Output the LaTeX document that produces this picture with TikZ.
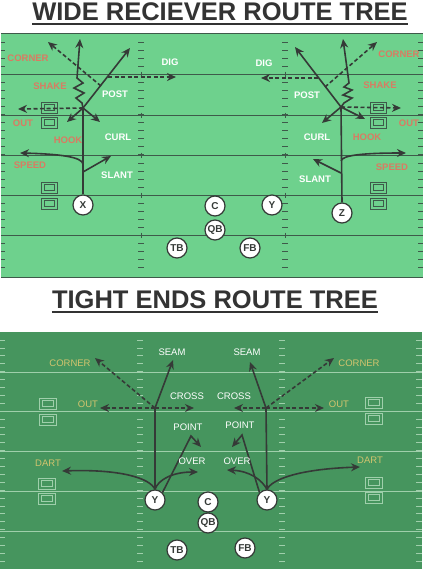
\documentclass[tikz,border=0pt]{standalone}
\usepackage{fontspec}
\setmainfont{Liberation Sans}
\usetikzlibrary{arrows.meta}
\definecolor{fieldA}{HTML}{6ED18D}
\definecolor{fieldB}{HTML}{46955E}
\definecolor{lineA}{HTML}{3E5A4A}
\definecolor{lineB}{HTML}{9FCFAB}
\definecolor{ink}{HTML}{353A37}
\definecolor{salmon}{HTML}{D97B62}
\definecolor{gold}{HTML}{D2C46E}
\definecolor{titlec}{HTML}{333333}
\tikzset{
 route/.style={draw=ink, line width=1.6pt, -{Stealth[length=9pt,width=8pt]}},
 dashroute/.style={route, dash pattern=on 4pt off 2.5pt},
 stemline/.style={draw=ink, line width=1.6pt},
 player/.style={circle, draw=ink, fill=white, line width=1.2pt, minimum size=20pt, inner sep=0pt, font=\bfseries\fontsize{10}{10}\selectfont, text=ink},
 lblW/.style={font=\bfseries\fontsize{9.5}{9.5}\selectfont, text=white},
 lblS/.style={font=\bfseries\fontsize{9.5}{9.5}\selectfont, text=salmon},
 lblW2/.style={font=\fontsize{9.5}{9.5}\selectfont, text=white},
 lblG/.style={font=\fontsize{9.5}{9.5}\selectfont, text=gold},
 boxA/.style={draw=lineA, line width=0.8pt},
 boxB/.style={draw=lineB, line width=0.6pt},
 titlestyle/.style={font=\bfseries\fontsize{25.5}{25.5}\selectfont, text=titlec, inner sep=0pt},
 ulinestyle/.style={draw=titlec, line width=1.8pt},
}
\begin{document}
\begin{tikzpicture}[x=1pt,y=-1pt]
\useasboundingbox (0,0) rectangle (423,574);
\fill[white] (0,0) rectangle (423,574);

% ===== Titles =====
\node[titlestyle] (t1) at (220,12) {WIDE RECIEVER ROUTE TREE};
\draw[ulinestyle] ([yshift=-3pt]t1.base west) -- ([yshift=-3pt]t1.base east);
\node[titlestyle] (t2) at (215,300) {TIGHT ENDS ROUTE TREE};
\draw[ulinestyle] ([yshift=-3pt]t2.base west) -- ([yshift=-3pt]t2.base east);

% ===== Top field =====
\fill[fieldA] (1,33) rectangle (423,277);
\draw[lineA, line width=1pt] (1,33) -- (423,33);
\draw[lineA, line width=0.8pt] (1,277) -- (423,277);
\foreach \yy in {74,115,155,195,235} {\draw[lineA, line width=0.8pt] (1,\yy) -- (423,\yy);
  \draw[lineA, line width=0.6pt] (141,\yy-2.5) -- (141,\yy+2.5) (285,\yy-2.5) -- (285,\yy+2.5);}
\foreach \i in {1,...,29} {\pgfmathsetmacro\yy{34+\i*8.05}
  \draw[lineA, line width=0.6pt] (1,\yy) -- (5,\yy) (138,\yy) -- (144,\yy) (282,\yy) -- (288,\yy) (418,\yy) -- (423,\yy);}
\foreach \bx/\by in {41/102, 41/117, 41/182, 41/198, 370/102, 370/117, 370/182, 370/198}
  {\draw[boxA] (\bx,\by) rectangle ++(16,11); \draw[boxA] (\bx+3,\by+2.5) rectangle ++(10,6);}

% players top
\node[player] (X) at (83,205) {X};
\node[player] (Z) at (342,213) {Z};
\node[player] (Yt) at (272,205) {Y};
\node[player] (Ct) at (215,206) {C};
\node[player] (QBt) at (215,230) {QB};
\node[player] (TBt) at (177,248) {TB};
\node[player] (FBt) at (250,248) {FB};

% left receiver routes
\coordinate (Lp) at (83,108);
\coordinate (Lpost) at (130,48);
\coordinate (Lhook) at (67,122);
\coordinate (Lcurl) at (100,122);
\coordinate (Lout) at (18,109);
\coordinate (Ldig0) at (108,77);
\coordinate (Ldig) at (176,77);
\coordinate (Lcor0) at (101,86);
\coordinate (Lcor) at (48,42);
\coordinate (Lsh) at (80,39);
\coordinate (Lsl0) at (83,172);
\coordinate (Lsl) at (111,156);
\coordinate (Lsp0) at (83,164);
\coordinate (Lsp) at (20,153);
\draw[stemline] (X.north) -- (Lp);
\draw[route] (Lp) -- (Lpost);
\draw[route] (Lp) -- (Lhook);
\draw[route] (Lp) -- (Lcurl);
\draw[dashroute] (Lp) -- (Lout);
\draw[dashroute] (Ldig0) -- (Ldig);
\draw[dashroute] (Lcor0) -- (Lcor);
\draw[route] (Lp) -- (82,103) -- (76,98) -- (84,93) -- (74,88) -- (83,83) -- (77,78) -- (Lsh);
\draw[route] (Lsl0) -- (Lsl);
\draw[route] (Lsp0) .. controls (82,157) and (60,154) .. (Lsp);

% right receiver routes
\coordinate (Rp) at (341,107);
\coordinate (Rpost) at (295,47);
\coordinate (Rhook) at (365,119);
\coordinate (Rcurl) at (322,123);
\coordinate (Rout) at (401,108);
\coordinate (Rdig0) at (318,78);
\coordinate (Rdig) at (261,78);
\coordinate (Rcor0) at (325,87);
\coordinate (Rcor) at (377,42);
\coordinate (Rsh) at (343,39);
\coordinate (Rsl0) at (341,173);
\coordinate (Rsl) at (313,159);
\coordinate (Rsp0) at (341,161);
\coordinate (Rsp) at (406,153);
\draw[stemline] (Z.north) -- (Rp);
\draw[route] (Rp) -- (Rpost);
\draw[route] (Rp) -- (Rhook);
\draw[route] (Rp) -- (Rcurl);
\draw[dashroute] (Rp) -- (Rout);
\draw[dashroute] (Rdig0) -- (Rdig);
\draw[dashroute] (Rcor0) -- (Rcor);
\draw[route] (Rp) -- (344,103) -- (352,98) -- (343,95) -- (352,90) -- (344,87) -- (349,83) -- (Rsh);
\draw[route] (Rsl0) -- (Rsl);
\draw[route] (Rsp0) .. controls (342,155) and (365,153) .. (Rsp);

% labels top
\node[lblS] (lcorner) at (28,58) {CORNER};
\node[lblS] (lshake) at (50,86) {SHAKE};
\node[lblS] (lout) at (23,123) {OUT};
\node[lblS] (lhook) at (68,140) {HOOK};
\node[lblS] (lspeed) at (30,165) {SPEED};
\node[lblW] (lpost) at (115,94) {POST};
\node[lblW] (lcurl) at (118,137) {CURL};
\node[lblW] (ldig) at (170,62) {DIG};
\node[lblW] (lslant) at (117,175) {SLANT};
\node[lblS] (rcorner) at (399,54) {CORNER};
\node[lblS] (rshake) at (380,85) {SHAKE};
\node[lblS] (rout) at (409,123) {OUT};
\node[lblS] (rhook) at (367,137) {HOOK};
\node[lblS] (rspeed) at (392,167) {SPEED};
\node[lblW] (rpost) at (307,95) {POST};
\node[lblW] (rcurl) at (317,137) {CURL};
\node[lblW] (rdig) at (264,63) {DIG};
\node[lblW] (rslant) at (315,179) {SLANT};

% ===== Bottom field =====
\fill[fieldB] (0,332) rectangle (422,569);
\foreach \yy in {372,411,451,491,531} {\draw[lineB, line width=0.7pt] (0,\yy) -- (422,\yy);}
\foreach \i in {1,...,29} {\pgfmathsetmacro\yy{332+\i*7.9}
  \draw[lineB, line width=0.5pt] (0,\yy) -- (5,\yy) (137,\yy) -- (143,\yy) (279,\yy) -- (285,\yy) (416,\yy) -- (422,\yy);}
\foreach \bx/\by in {39/398, 39/414, 38/478, 38/493, 365/397, 365/413, 365/477, 365/492}
  {\draw[boxB] (\bx,\by) rectangle ++(17,11); \draw[boxB] (\bx+3,\by+2.5) rectangle ++(11,6);}

\node[player] (Y1) at (155,500) {Y};
\node[player] (Y2) at (267,500) {Y};
\node[player] (Cb) at (208,502) {C};
\node[player] (QBb) at (208,523) {QB};
\node[player] (TBb) at (177,550) {TB};
\node[player] (FBb) at (245,548) {FB};

% left TE
\coordinate (Ap) at (155,408);
\draw[stemline] (Y1.north) -- (Ap);
\coordinate (Aseam) at (173,360);
\coordinate (Acor) at (95,358);
\coordinate (Aout) at (100,408);
\coordinate (Across) at (194,408);
\coordinate (Apt) at (191,436);
\coordinate (Apte) at (201,447);
\coordinate (Aover) at (198,472);
\coordinate (Adart) at (62,471);
\draw[route] (Ap) -- (Aseam);
\draw[dashroute] (Ap) -- (Acor);
\draw[dashroute] (Ap) -- (Aout);
\draw[dashroute] (Ap) -- (Across);
\draw[route] (Y1.north east) -- (Apt) -- (Apte);
\draw[route] (Y1.north) .. controls (158,480) and (172,472) .. (Aover);
\draw[route] (Y1.north) .. controls (150,478) and (120,469) .. (Adart);

% right TE
\coordinate (Bp) at (266,408);
\draw[stemline] (Y2.north) -- (Bp);
\coordinate (Bseam) at (250,362);
\coordinate (Bcor) at (334,358);
\coordinate (Bout) at (324,408);
\coordinate (Bcross) at (234,408);
\coordinate (Bpt) at (242,435);
\coordinate (Bpte) at (232,447);
\coordinate (Bover) at (227,470);
\coordinate (Bdart) at (360,467);
\draw[route] (Bp) -- (Bseam);
\draw[dashroute] (Bp) -- (Bcor);
\draw[dashroute] (Bp) -- (Bout);
\draw[dashroute] (Bp) -- (Bcross);
\draw[route] (Y2.north west) -- (Bpt) -- (Bpte);
\draw[route] (Y2.north) .. controls (262,480) and (250,471) .. (Bover);
\draw[route] (Y2.north) .. controls (272,479) and (300,469) .. (Bdart);

% labels bottom
\node[lblW2] (aseam) at (172,352) {SEAM};
\node[lblG] (acorner) at (70,363) {CORNER};
\node[lblW2] (across) at (187,396) {CROSS};
\node[lblG] (aout) at (88,404) {OUT};
\node[lblW2] (apoint) at (188,427) {POINT};
\node[lblW2] (aover) at (192,461) {OVER};
\node[lblG] (adart) at (48,463) {DART};
\node[lblW2] (bseam) at (247,352) {SEAM};
\node[lblG] (bcorner) at (359,363) {CORNER};
\node[lblW2] (bcross) at (234,396) {CROSS};
\node[lblG] (bout) at (339,404) {OUT};
\node[lblW2] (bpoint) at (240,425) {POINT};
\node[lblW2] (bover) at (237,461) {OVER};
\node[lblG] (bdart) at (370,460) {DART};
\end{tikzpicture}
\end{document}
